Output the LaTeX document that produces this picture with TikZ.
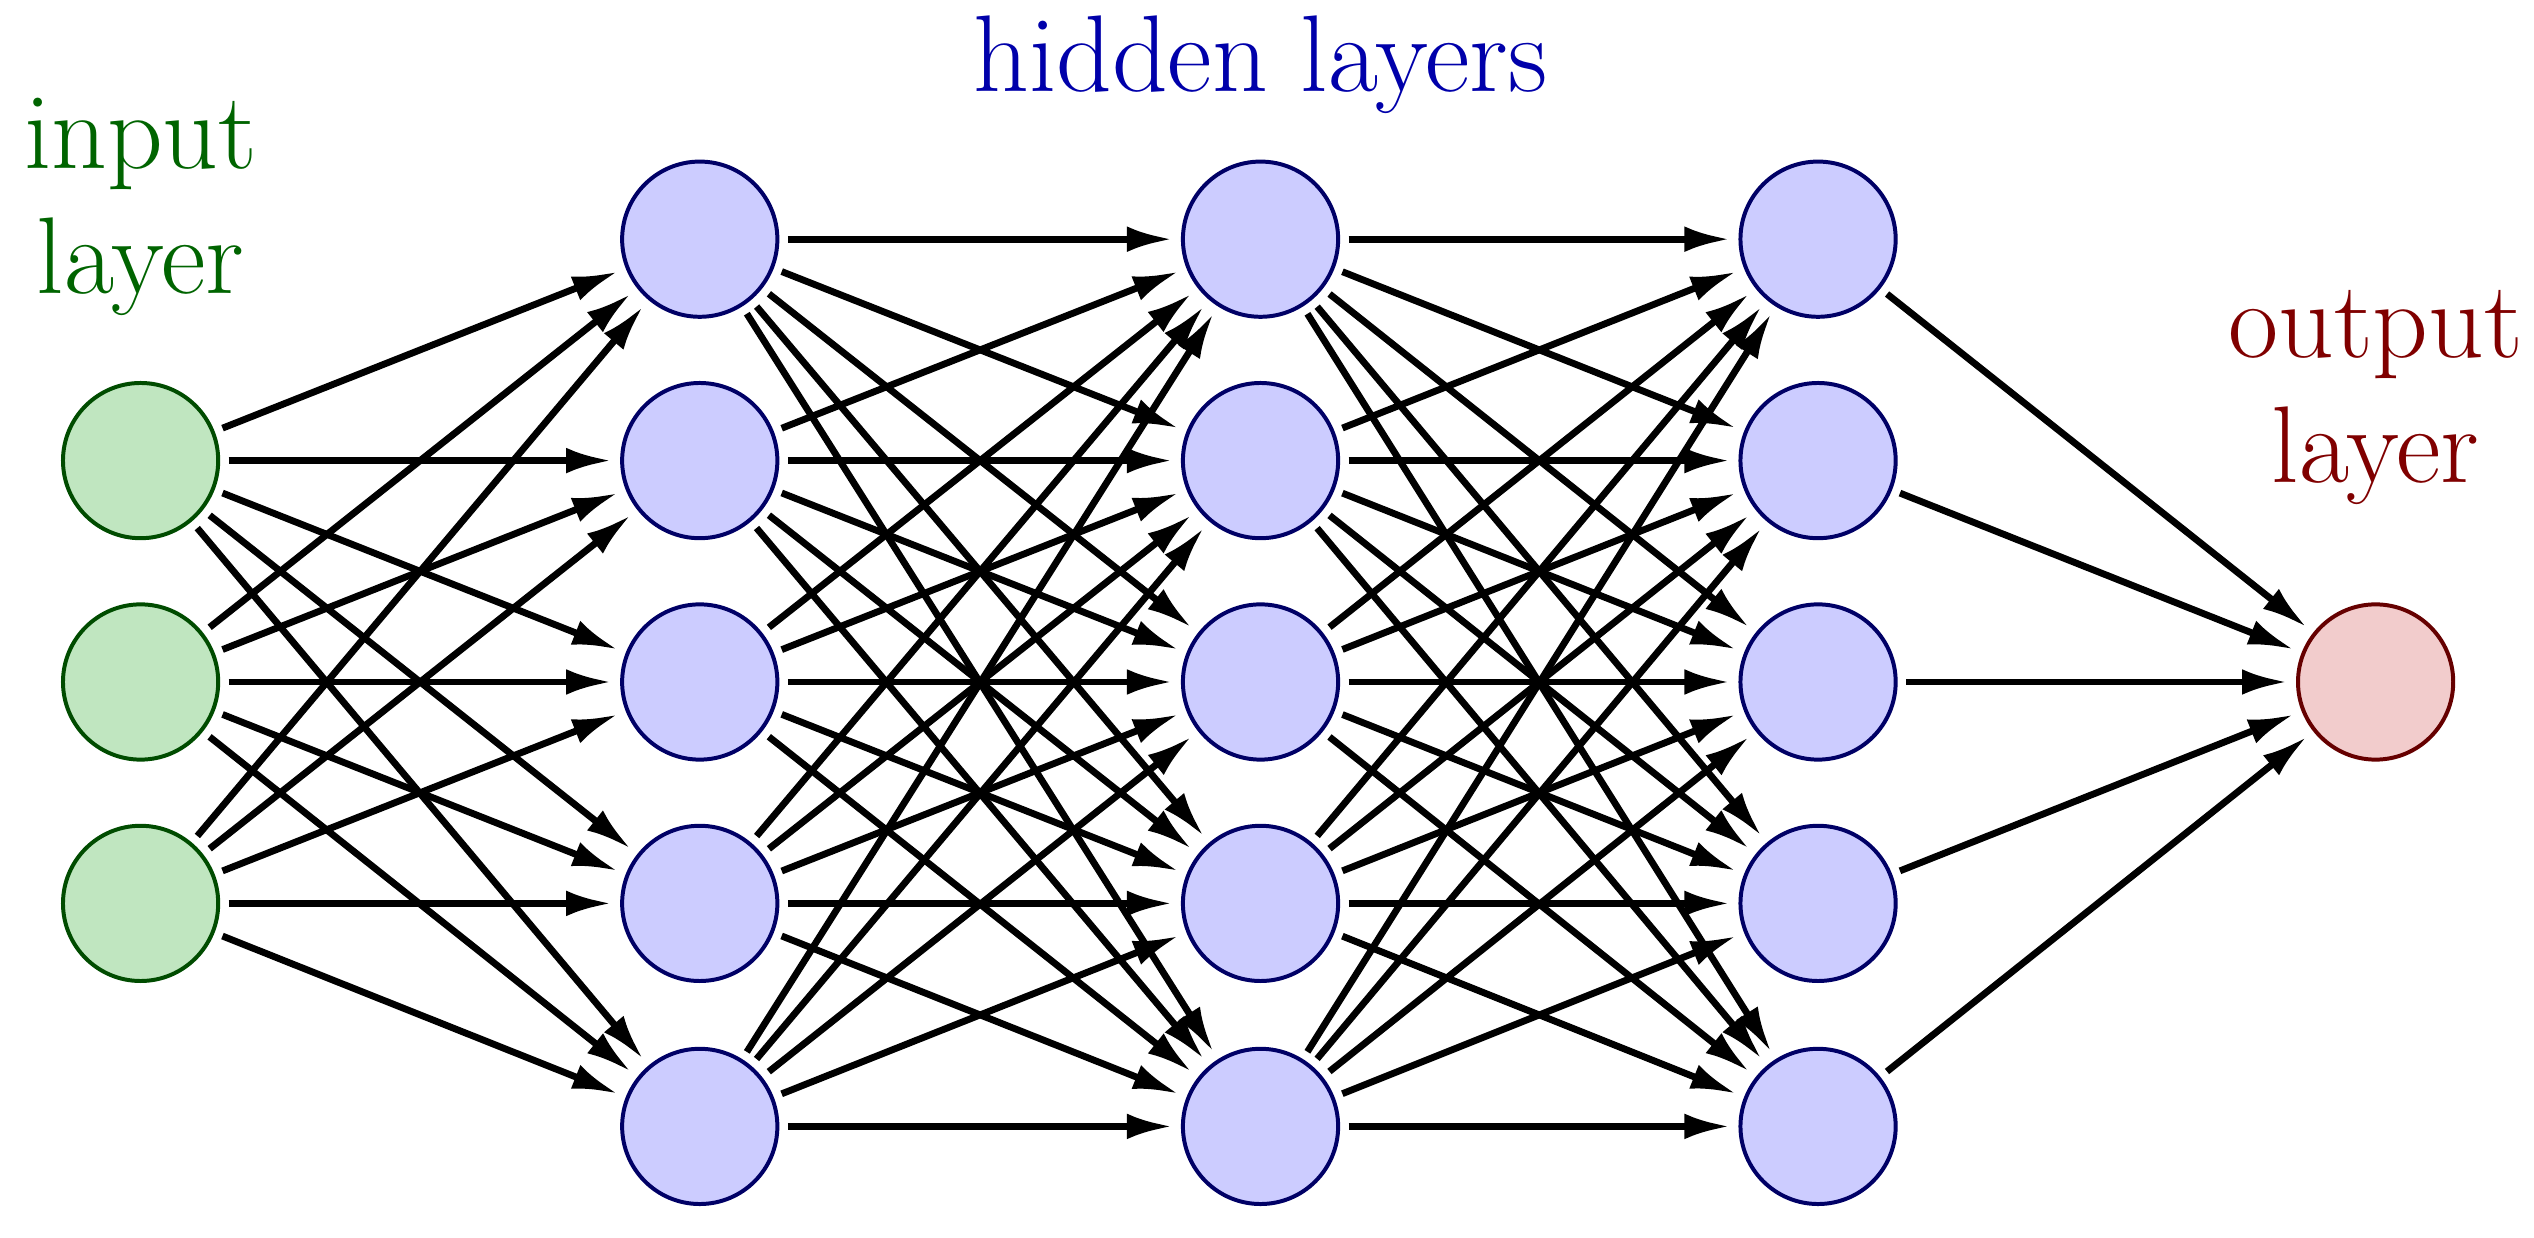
\documentclass[tikz,border=0pt]{standalone}
\usetikzlibrary{arrows.meta}
\definecolor{ingreen}{RGB}{192,230,192}
\definecolor{hidblue}{RGB}{204,204,255}
\definecolor{outred}{RGB}{242,204,204}
\definecolor{tgreen}{RGB}{0,100,0}
\definecolor{tblue}{RGB}{0,0,170}
\definecolor{tred}{RGB}{128,0,0}
\begin{document}
\begin{tikzpicture}[x=0.01cm,y=-0.01cm,
  neuron/.style={circle,minimum size=0.96cm,inner sep=0pt,line width=0.7pt},
  inn/.style={neuron,fill=ingreen,draw=black!70!green},
  hid/.style={neuron,fill=hidblue,draw=black!60!blue},
  outn/.style={neuron,fill=outred,draw=black!60!red},
  conn/.style={line width=1.2pt,-{Latex[length=8pt,width=4.5pt]},shorten <=1.5pt,shorten >=1.5pt},
  lbl/.style={font=\fontsize{19.2}{22}\selectfont,align=center}]
\useasboundingbox (0,0) rectangle (1568,766);
\foreach \i/\y in {1/285,2/422,3/559} \node[inn] (I\i) at (87,\y) {};
\foreach \l/\x in {1/433,2/780,3/1125}
  \foreach \i/\y in {1/148,2/285,3/422,4/559,5/697} \node[hid] (H\l\i) at (\x,\y) {};
\node[outn] (O) at (1470,422) {};
\foreach \i in {1,2,3} \foreach \j in {1,...,5} \draw[conn] (I\i) -- (H1\j);
\foreach \i in {1,...,5} \foreach \j in {1,...,5} {
  \draw[conn] (H1\i) -- (H2\j);
  \draw[conn] (H2\i) -- (H3\j);}
\foreach \i in {1,...,5} \draw[conn] (H3\i) -- (O);
\node[lbl,text=tblue] (th) at (780,40) {hidden layers};
\node[lbl,text=tgreen] (ti) at (87,128) {input\\layer};
\node[lbl,text=tred] (to) at (1470,246) {output\\layer};
\end{tikzpicture}
\end{document}
